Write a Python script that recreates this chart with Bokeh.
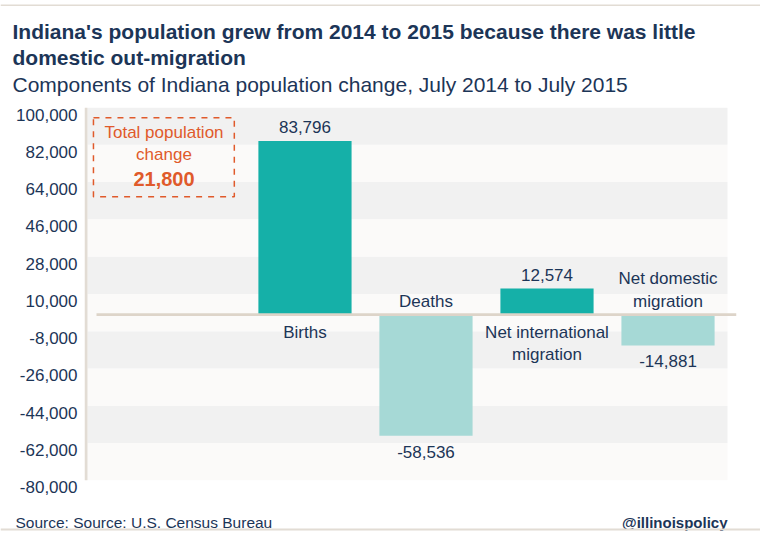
from bokeh.plotting import figure
from bokeh.layouts import column
from bokeh.models import (Range1d, FixedTicker, CustomJSTickFormatter, ColumnDataSource,
                          Label, BoxAnnotation)
from bokeh.core.properties import value
from bokeh.embed import file_html
from bokeh.resources import INLINE

# --- data: components of Indiana population change, July 2014 - July 2015 ---
components = ["Births", "Deaths", "Net international\nmigration", "Net domestic\nmigration"]
change = [83796, -58536, 12574, -14881]
total_change = 21800

y_ticks = [-80000, -62000, -44000, -26000, -8000, 10000, 28000, 46000, 64000, 82000, 100000]

title_lines = ["Indiana's population grew from 2014 to 2015 because there was little",
               "domestic out-migration"]
subtitle = "Components of Indiana population change, July 2014 to July 2015"
source_text = "Source: Source: U.S. Census Bureau"
credit_text = "@illinoispolicy"

# --- style ---
FONT = "Liberation Sans"
NAVY = "#1c3557"
ORANGE = "#e05a2b"
TEAL = "#15b0a8"
TEAL_LIGHT = "#a6d9d6"
BAND_DARK = "#f1f1f1"
BAND_LIGHT = "#fbfaf9"
RULE = "#e2dcd4"

W = 760
HEAD_H, CHART_H, FOOT_H = 100, 400, 37
DROP = 3400  # tick labels hang just below their band edge


def blank_figure(height, top):
    """A figure whose frame fills the canvas; data units equal page pixels."""
    f = figure(width=W, height=height, x_range=Range1d(0, W),
               y_range=Range1d(top + height, top), title=None,
               x_axis_location=None, y_axis_location=None,
               toolbar_location=None, output_backend="svg",
               min_border=0, outline_line_color=None,
               background_fill_color="white", border_fill_color="white")
    f.grid.visible = False
    f.frame_align = False
    return f


# ---------------- header ----------------
head = blank_figure(HEAD_H, 0)
head.add_layout(BoxAnnotation(left=0, right=W, top=4, bottom=5.5, fill_color=RULE,
                              fill_alpha=1, line_color=None))
for txt, base in zip(title_lines, [30.7, 56.7]):
    head.add_layout(Label(x=12, y=base, text=txt, text_align="left",
                          text_baseline="alphabetic", text_font=FONT,
                          text_font_size="21px", text_font_style="bold",
                          text_color=NAVY))
head.add_layout(Label(x=12, y=84, text=subtitle, text_align="left",
                      text_baseline="alphabetic", text_font=FONT,
                      text_font_size="21px", text_color=NAVY))

# ---------------- chart ----------------
p = figure(width=W, height=CHART_H,
           x_range=Range1d(-1.822, 3.566),
           y_range=Range1d(y_ticks[0] - DROP - 100, y_ticks[-1]),
           title=None, x_axis_location=None, toolbar_location=None,
           output_backend="svg",
           min_border_left=84, min_border_right=24,
           min_border_top=7, min_border_bottom=13,
           background_fill_color="white", border_fill_color="white",
           outline_line_color=None)
p.grid.visible = False
p.frame_align = False

# alternating bands between gridlines, the lower band of each pair lighter
for i in range(len(y_ticks) - 1):
    p.add_layout(BoxAnnotation(left=3, right=643, left_units="screen", right_units="screen",
                               bottom=y_ticks[i], top=y_ticks[i + 1],
                               fill_color=BAND_DARK if i % 2 else BAND_LIGHT,
                               fill_alpha=1, line_color=None, level="image"))

# axis rule on the left edge
p.add_layout(BoxAnnotation(left=0, right=3, left_units="screen", right_units="screen",
                           bottom=y_ticks[0], top=y_ticks[-1],
                           fill_color=RULE, fill_alpha=1, line_color=None, level="image"))

# y axis labels
ax = p.yaxis[0]
ax.ticker = FixedTicker(ticks=[t - DROP for t in y_ticks])
ax.formatter = CustomJSTickFormatter(args=dict(drop=DROP),
                                     code="return Math.round(tick + drop).toLocaleString('en-US');")
ax.axis_line_color = None
ax.major_tick_line_color = None
ax.minor_tick_line_color = None
ax.major_tick_in = 0
ax.major_tick_out = 0
ax.major_label_standoff = 7
ax.major_label_text_font = FONT
ax.major_label_text_font_size = "17px"
ax.major_label_text_color = NAVY

# bars
xs = list(range(len(change)))
src = ColumnDataSource(dict(
    x=xs,
    top=change,
    fill=[TEAL if v >= 0 else TEAL_LIGHT for v in change],
    value_text=[f"{v:,}" for v in change],
    value_dy=[-14 if v >= 0 else 16 for v in change],
))
p.vbar(x="x", top="top", bottom=0, width=0.77, source=src,
       fill_color="fill", line_color=None)

# zero line
p.add_layout(BoxAnnotation(left=12, right=652, left_units="screen", right_units="screen",
                           bottom=-650, top=650, fill_color="#ddd4c9", fill_alpha=1,
                           line_color=None))

# value labels
p.text(x="x", y="top", text="value_text", y_offset="value_dy", source=src,
       text_align="center", text_baseline="middle", text_font=value(FONT),
       text_font_size="17px", text_color=NAVY)

# category labels: under the axis for gains, over it for losses
pos_src = ColumnDataSource(dict(
    x=[x for x, v in zip(xs, change) if v >= 0],
    y=[0 for v in change if v >= 0],
    text=[c for c, v in zip(components, change) if v >= 0]))
neg_src = ColumnDataSource(dict(
    x=[x for x, v in zip(xs, change) if v < 0],
    y=[0 for v in change if v < 0],
    text=[c for c, v in zip(components, change) if v < 0]))
p.text(x="x", y="y", text="text", source=pos_src, y_offset=8,
       text_align="center", text_baseline="top", text_line_height=1.2,
       text_font=value(FONT), text_font_size="17px", text_color=NAVY)
p.text(x="x", y="y", text="text", source=neg_src, y_offset=-4,
       text_align="center", text_baseline="bottom", text_line_height=1.2,
       text_font=value(FONT), text_font_size="17px", text_color=NAVY)

# total change callout
p.add_layout(BoxAnnotation(left=-1.748, right=-0.584, top=95070, bottom=56950,
                           fill_alpha=0, line_color=ORANGE, line_alpha=1,
                           line_width=1.5, line_dash="6 6"))
for txt, yy, size, style in [("Total population", 87870, "17px", "normal"),
                             ("change", 77250, "17px", "normal"),
                             (f"{total_change:,}", 65670, "20px", "bold")]:
    p.add_layout(Label(x=-1.165, y=yy, text=txt, text_align="center",
                       text_baseline="middle", text_font=FONT, text_font_size=size,
                       text_font_style=style, text_color=ORANGE))

# ---------------- footer ----------------
foot = blank_figure(FOOT_H, HEAD_H + CHART_H)
foot.add_layout(Label(x=15, y=521.7, text=source_text, text_align="left",
                      text_baseline="alphabetic", text_font=FONT,
                      text_font_size="15.5px", text_color=NAVY))
foot.add_layout(Label(x=727, y=521.7, text=credit_text, text_align="right",
                      text_baseline="alphabetic", text_font=FONT,
                      text_font_size="15px", text_font_style="bold", text_color=NAVY))
foot.add_layout(BoxAnnotation(left=0, right=W, top=528, bottom=530, fill_color=RULE,
                              fill_alpha=1, line_color=None))

page = column(head, p, foot, spacing=0)
open("out.html", "w").write(file_html(page, INLINE))
